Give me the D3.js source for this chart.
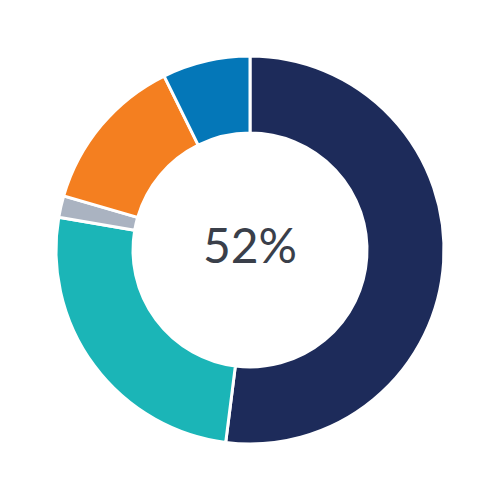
<!DOCTYPE html>
<html>
<head>
<meta charset="utf-8">
<script src="https://cdn.jsdelivr.net/npm/d3@7"></script>
<style>
  body { margin: 0; background: #fff; }
</style>
</head>
<body>
<div id="chart"></div>
<script>
const width = 500
const height = 500
const categories = ["A", "B", "C", "D", "E"]
const values = [52, 25.7, 1.8, 13.2, 7.3]
const colors = ["#1d2b5a", "#1bb5b7", "#aab3c1", "#f47f20", "#0477b8"]
const centerLabel = "52%"

const data = categories.map((c, i) => ({ name: c, value: values[i] }))

const svg = d3.select("#chart")
    .append("svg")
    .attr("width", width)
    .attr("height", height)

const g = svg.append("g")
    .attr("transform", `translate(${width / 2},${height / 2})`)

const color = d3.scaleOrdinal().domain(categories).range(colors)

const pie = d3.pie()
    .value(d => d.value)
    .sort(null)

const arc = d3.arc()
    .innerRadius(117)
    .outerRadius(194)

g.selectAll("path")
    .data(pie(data))
    .enter()
    .append("path")
    .attr("d", arc)
    .attr("fill", d => color(d.data.name))
    .attr("stroke", "#fff")
    .attr("stroke-width", 3)

// big number in the hole
g.append("text")
    .attr("text-anchor", "middle")
    .attr("y", 13)
    .style("font-family", "Lato, sans-serif")
    .style("font-size", "48px")
    .style("fill", "#3a3f4a")
    .text(centerLabel)
</script>
</body>
</html>
